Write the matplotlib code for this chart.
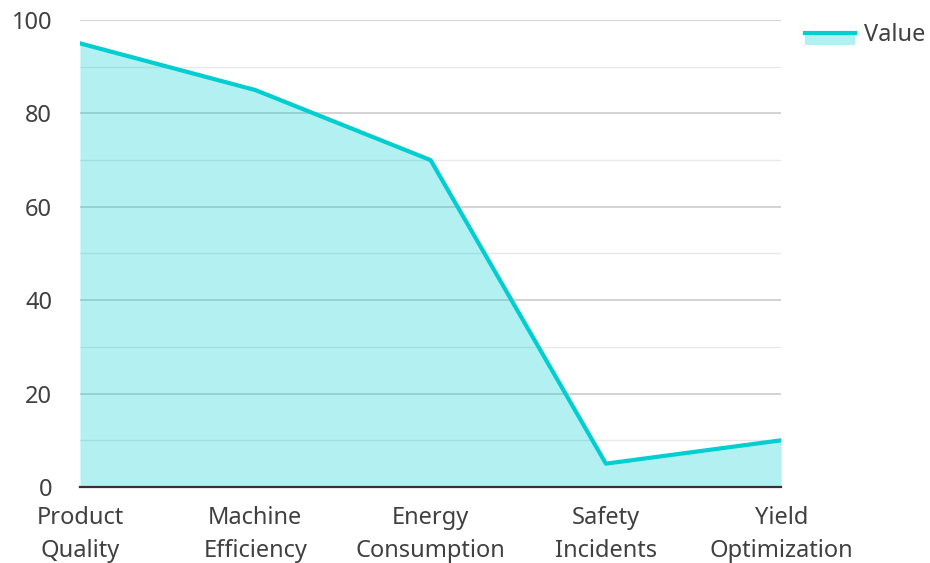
import matplotlib
matplotlib.use("Agg")
from matplotlib import pyplot as plt
from matplotlib.patches import Patch, Rectangle
from matplotlib.lines import Line2D
from matplotlib.legend_handler import HandlerBase

plt.rcParams['font.family'] = ['Noto Sans', 'DejaVu Sans']

categories = ["Product\nQuality", "Machine\nEfficiency", "Energy\nConsumption",
              "Safety\nIncidents", "Yield\nOptimization"]
values = [95, 85, 70, 5, 10]
y_ticks = [0, 20, 40, 60, 80, 100]

line_color = "#00CED1"
text_color = "#404040"


class AreaHandler(HandlerBase):
    # line at text middle, light fill under it
    def create_artists(self, legend, orig_handle, xdescent, ydescent,
                       width, height, fontsize, trans):
        top = -ydescent + height * 0.5
        bottom = top - height * 0.75
        rect = Rectangle((-xdescent, bottom), width, top - bottom,
                         facecolor=line_color, alpha=0.3, lw=0, transform=trans)
        ln = Line2D([-xdescent, -xdescent + width], [top, top],
                    color=line_color, lw=3, transform=trans)
        return [rect, ln]


fig = plt.figure(figsize=(9.3, 5.63), dpi=100)
ax = fig.add_axes([0.086, 0.135, 0.754, 0.8295])

x = list(range(len(categories)))
ax.fill_between(x, values, 0, color=line_color, alpha=0.3, lw=0, zorder=2)
ax.plot(x, values, color=line_color, lw=3, zorder=3)

ax.set_xlim(0, len(categories) - 1)
ax.set_ylim(0, 100)
ax.set_yticks(y_ticks)
ax.set_yticks(range(10, 100, 20), minor=True)
ax.set_xticks(x)
ax.set_xticklabels(categories, linespacing=1.45)

ax.grid(axis='y', which='major', color="#cccccc", lw=1.2, zorder=1)
ax.grid(axis='y', which='minor', color="#e8e8e8", lw=1.0, zorder=1)
ax.set_axisbelow(True)

for s in ['left', 'right', 'top']:
    ax.spines[s].set_visible(False)
ax.spines['bottom'].set_color("#333333")
ax.spines['bottom'].set_linewidth(1.6)
ax.spines['bottom'].set_zorder(4)

ax.tick_params(axis='both', which='both', length=0, labelsize=17, colors=text_color)
ax.tick_params(axis='y', pad=20)
ax.tick_params(axis='x', pad=14)

h = Patch()
fig.legend([h], ["Value"], handler_map={Patch: AreaHandler()},
           loc='upper left', bbox_to_anchor=(0.866, 0.959), frameon=False,
           borderpad=0, borderaxespad=0,
           fontsize=17, handlelength=2.1, handletextpad=0.4, labelcolor=text_color)

fig.savefig("out.png", dpi=100)
